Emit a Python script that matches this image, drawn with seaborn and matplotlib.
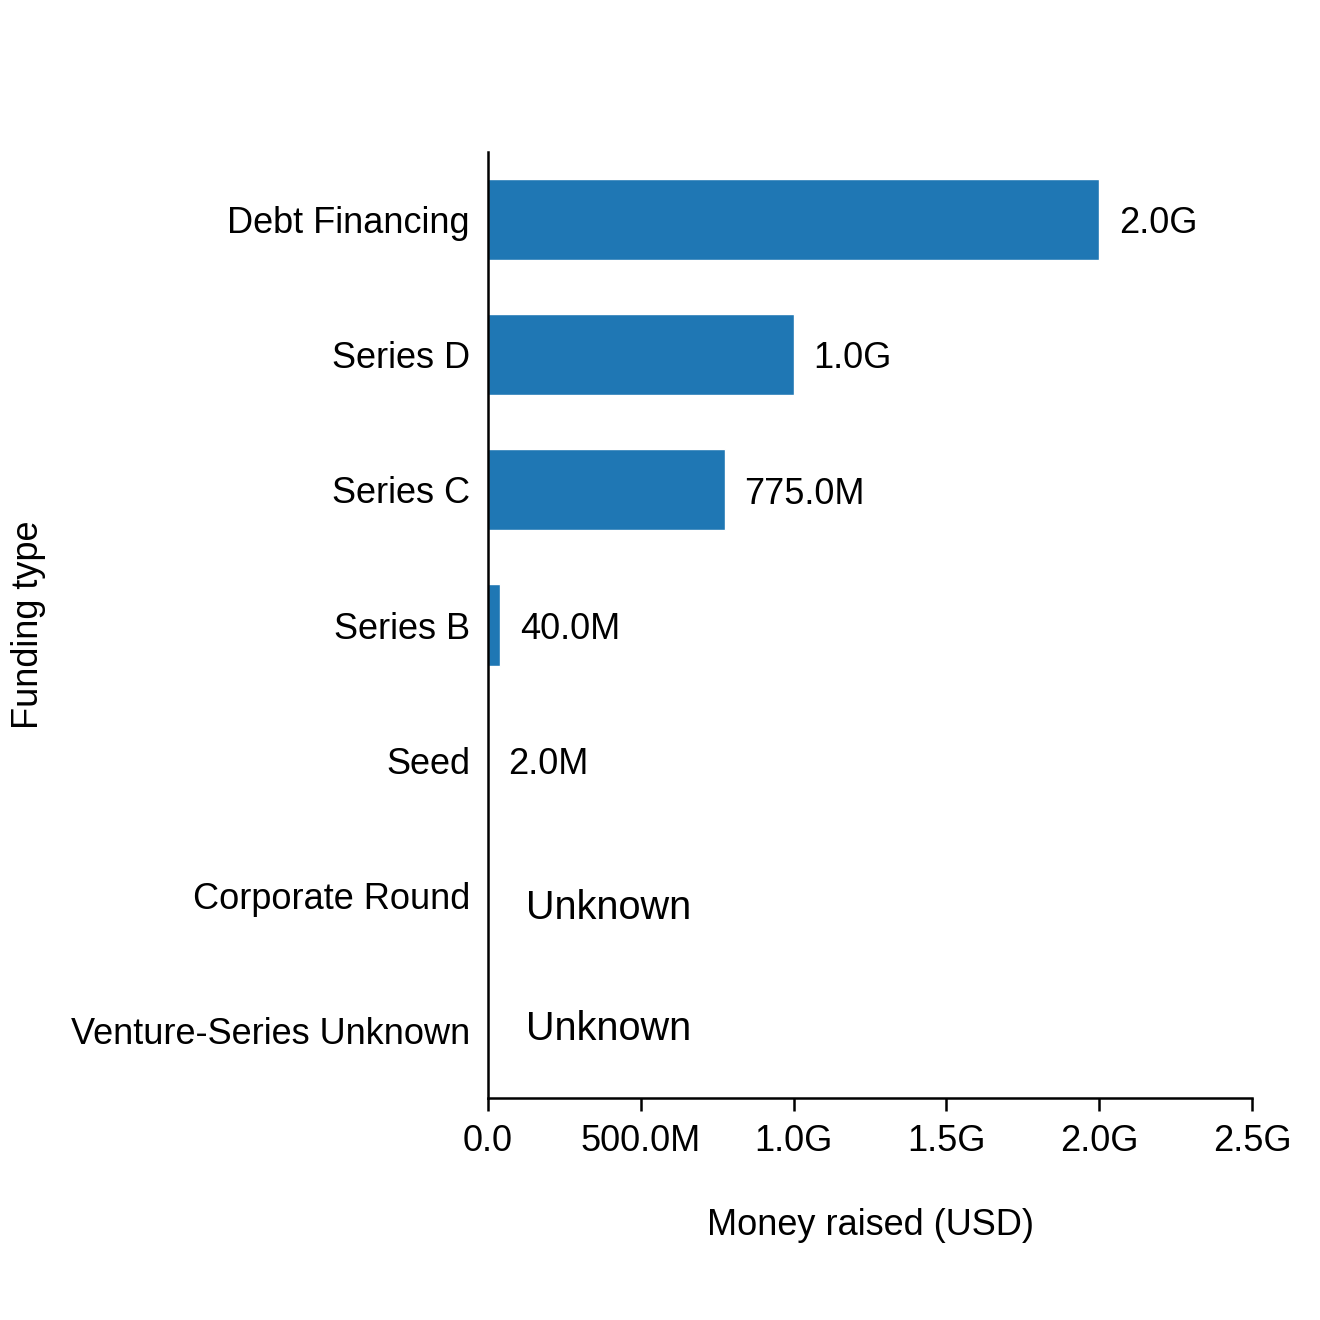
import numpy as np
import pandas as pd
import matplotlib
matplotlib.use("Agg")
import matplotlib.pyplot as plt
import seaborn as sns
from matplotlib.ticker import EngFormatter

# funding rounds, amounts in USD (None = undisclosed)
funding_types = ["Debt Financing", "Series D", "Series C", "Series B", "Seed",
                 "Corporate Round", "Venture-Series Unknown"]
amounts = [2.0e9, 1.0e9, 775.0e6, 40.0e6, 2.0e6, None, None]
x_ticks = [0, 0.5e9, 1.0e9, 1.5e9, 2.0e9, 2.5e9]

df = pd.DataFrame({"type": funding_types,
                   "amount": [np.nan if a is None else a for a in amounts]})

sns.set_style("white")
plt.rcParams["font.family"] = ["Liberation Sans", "DejaVu Sans"]
plt.rcParams["text.color"] = "black"
plt.rcParams["axes.labelcolor"] = "black"
plt.rcParams["xtick.color"] = "black"
plt.rcParams["ytick.color"] = "black"

fig = plt.figure(figsize=(13.2, 13.2), dpi=100)
ax = fig.add_axes([0.3697, 0.1682, 0.5788, 0.7166])

sns.barplot(data=df, x="amount", y="type", order=funding_types,
            color="#1f77b4", saturation=1, width=0.6, ax=ax)

fmt = EngFormatter(places=1, sep="")
ax.xaxis.set_major_formatter(fmt)
ax.set_xticks(x_ticks)
ax.set_xlim(0, 2.5e9)
ax.set_ylim(6.5, -0.5)

# value labels
for i, (name, val) in enumerate(zip(df["type"], df["amount"])):
    if np.isnan(val):
        dy = -9 if name == "Corporate Round" else 1
        ax.annotate("Unknown", xy=(0, i), xytext=(27, dy),
                    textcoords="offset points", ha="left", va="center",
                    fontsize=28.5)
    else:
        ax.annotate(fmt(val), xy=(val, i), xytext=(14, -3),
                    textcoords="offset points", ha="left", va="center",
                    fontsize=26)

sns.despine(ax=ax)
for s in ["left", "bottom"]:
    ax.spines[s].set_color("black")
    ax.spines[s].set_linewidth(1.8)

ax.tick_params(axis="x", length=9, width=1.8, color="black", pad=10,
               labelsize=26, bottom=True)
ax.tick_params(axis="y", length=0, pad=13, labelsize=26)

ax.set_xlabel("Money raised (USD)", fontsize=26)
ax.set_ylabel("Funding type", fontsize=26)
ax.xaxis.set_label_coords(0.5, -0.116)
ax.yaxis.set_label_coords(-0.579, 0.5)

fig.savefig("out.png", dpi=100)
